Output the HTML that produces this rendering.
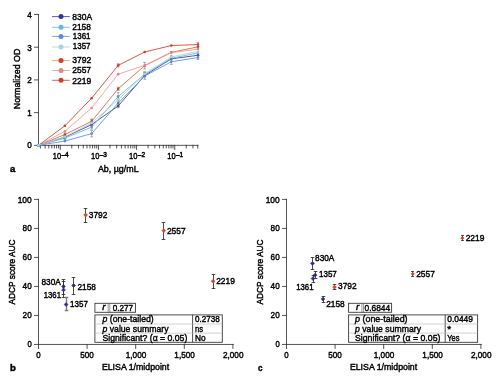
<!DOCTYPE html>
<html><head><meta charset="utf-8"><title>Figure</title>
<style>
html,body{margin:0;padding:0;background:#fff;}
body{width:499px;height:385px;overflow:hidden;}
svg{display:block;font-family:"Liberation Sans",sans-serif;fill:#000;}
text{stroke:#000;stroke-width:0.45px;}
</style></head><body>
<svg width="499" height="385" viewBox="0 0 499 385">
<rect width="499" height="385" fill="#fff"/>
<g stroke="#2a2a2a" stroke-width="0.8" fill="none" stroke-linecap="square">
<path d="M38.5 14.47V145.35H198.0"/>
<path d="M34.5 145.35H38.5"/>
<path d="M34.5 112.63H38.5"/>
<path d="M34.5 79.91H38.5"/>
<path d="M34.5 47.19H38.5"/>
<path d="M34.5 14.47H38.5"/>
<path d="M40.35 145.35v2.6"/>
<path d="M45.12 145.35v2.6"/>
<path d="M48.82 145.35v2.6"/>
<path d="M51.84 145.35v2.6"/>
<path d="M54.39 145.35v2.6"/>
<path d="M56.60 145.35v2.6"/>
<path d="M58.55 145.35v2.6"/>
<path d="M60.30 145.35v4"/>
<path d="M71.78 145.35v2.6"/>
<path d="M78.50 145.35v2.6"/>
<path d="M83.27 145.35v2.6"/>
<path d="M86.97 145.35v2.6"/>
<path d="M89.99 145.35v2.6"/>
<path d="M92.54 145.35v2.6"/>
<path d="M94.75 145.35v2.6"/>
<path d="M96.70 145.35v2.6"/>
<path d="M98.45 145.35v4"/>
<path d="M109.93 145.35v2.6"/>
<path d="M116.65 145.35v2.6"/>
<path d="M121.42 145.35v2.6"/>
<path d="M125.12 145.35v2.6"/>
<path d="M128.14 145.35v2.6"/>
<path d="M130.69 145.35v2.6"/>
<path d="M132.90 145.35v2.6"/>
<path d="M134.85 145.35v2.6"/>
<path d="M136.60 145.35v4"/>
<path d="M148.08 145.35v2.6"/>
<path d="M154.80 145.35v2.6"/>
<path d="M159.57 145.35v2.6"/>
<path d="M163.27 145.35v2.6"/>
<path d="M166.29 145.35v2.6"/>
<path d="M168.84 145.35v2.6"/>
<path d="M171.05 145.35v2.6"/>
<path d="M173.00 145.35v2.6"/>
<path d="M174.75 145.35v4"/>
<path d="M186.23 145.35v2.6"/>
<path d="M192.95 145.35v2.6"/>
<path d="M197.72 145.35v2.6"/>
</g>
<text x="27.30" y="148.35" font-size="9.9" textLength="4.50" lengthAdjust="spacingAndGlyphs">0</text>
<text x="27.30" y="115.78" font-size="9.9" textLength="4.50" lengthAdjust="spacingAndGlyphs">1</text>
<text x="27.30" y="83.21" font-size="9.9" textLength="4.50" lengthAdjust="spacingAndGlyphs">2</text>
<text x="27.30" y="50.64" font-size="9.9" textLength="4.50" lengthAdjust="spacingAndGlyphs">3</text>
<text x="27.30" y="18.07" font-size="9.9" textLength="4.50" lengthAdjust="spacingAndGlyphs">4</text>
<text x="52.80" y="158.80" font-size="9.9" textLength="8.40" lengthAdjust="spacingAndGlyphs">10</text>
<text x="61.50" y="157.00" font-size="6.4" textLength="7.20" lengthAdjust="spacingAndGlyphs">–4</text>
<text x="90.95" y="158.80" font-size="9.9" textLength="8.40" lengthAdjust="spacingAndGlyphs">10</text>
<text x="99.65" y="157.00" font-size="6.4" textLength="7.20" lengthAdjust="spacingAndGlyphs">–3</text>
<text x="129.10" y="158.80" font-size="9.9" textLength="8.40" lengthAdjust="spacingAndGlyphs">10</text>
<text x="137.80" y="157.00" font-size="6.4" textLength="7.20" lengthAdjust="spacingAndGlyphs">–2</text>
<text x="167.25" y="158.80" font-size="9.9" textLength="8.40" lengthAdjust="spacingAndGlyphs">10</text>
<text x="175.95" y="157.00" font-size="6.4" textLength="7.20" lengthAdjust="spacingAndGlyphs">–1</text>
<text x="97.90" y="171.60" font-size="9.9" textLength="40.80" lengthAdjust="spacingAndGlyphs">Ab, µg/mL</text>
<text x="9.90" y="171.90" font-size="9.5" font-weight="bold" stroke="none">a</text>
<text transform="translate(20.1,109.2) rotate(-90)" font-size="9.9" textLength="60.5" lengthAdjust="spacingAndGlyphs">Normalized OD</text>
<polyline points="38.50,145.30 64.90,134.58 91.70,121.25 118.20,88.75 144.70,65.68 171.30,52.35 198.00,46.83" fill="none" stroke="#e0603a" stroke-width="0.85"/>
<path d="M64.90 132.95V136.20M63.50 132.95h2.8M63.50 136.20h2.8" stroke="#6c6c78" stroke-width="0.55" fill="none"/>
<path d="M91.70 119.63V122.88M90.30 119.63h2.8M90.30 122.88h2.8" stroke="#6c6c78" stroke-width="0.55" fill="none"/>
<path d="M118.20 87.12V90.38M116.80 87.12h2.8M116.80 90.38h2.8" stroke="#6c6c78" stroke-width="0.55" fill="none"/>
<path d="M144.70 62.42V68.93M143.30 62.42h2.8M143.30 68.93h2.8" stroke="#6c6c78" stroke-width="0.55" fill="none"/>
<circle cx="38.50" cy="145.30" r="1.3" fill="#d4401f"/>
<circle cx="64.90" cy="134.58" r="1.3" fill="#d4401f"/>
<circle cx="91.70" cy="121.25" r="1.3" fill="#d4401f"/>
<circle cx="118.20" cy="88.75" r="1.3" fill="#d4401f"/>
<circle cx="144.70" cy="65.68" r="1.3" fill="#d4401f"/>
<circle cx="171.30" cy="52.35" r="1.3" fill="#d4401f"/>
<circle cx="198.00" cy="46.83" r="1.3" fill="#d4401f"/>
<polyline points="38.50,145.30 64.90,131.33 91.70,107.93 118.20,74.13 144.70,65.35 171.30,52.68 198.00,49.10" fill="none" stroke="#ec9c8e" stroke-width="0.85"/>
<circle cx="38.50" cy="145.30" r="1.3" fill="#e38a80"/>
<circle cx="64.90" cy="131.33" r="1.3" fill="#e38a80"/>
<circle cx="91.70" cy="107.93" r="1.3" fill="#e38a80"/>
<circle cx="118.20" cy="74.13" r="1.3" fill="#e38a80"/>
<circle cx="144.70" cy="65.35" r="1.3" fill="#e38a80"/>
<circle cx="171.30" cy="52.68" r="1.3" fill="#e38a80"/>
<circle cx="198.00" cy="49.10" r="1.3" fill="#e38a80"/>
<polyline points="38.50,145.30 64.90,125.80 91.70,98.18 118.20,65.35 144.70,52.03 171.30,45.53 198.00,44.55" fill="none" stroke="#d23c20" stroke-width="0.85"/>
<path d="M118.20 63.73V66.98M116.80 63.73h2.8M116.80 66.98h2.8" stroke="#6c6c78" stroke-width="0.55" fill="none"/>
<path d="M198.00 42.60V46.50M196.60 42.60h2.8M196.60 46.50h2.8" stroke="#6c6c78" stroke-width="0.55" fill="none"/>
<circle cx="38.50" cy="145.30" r="1.3" fill="#d23c20"/>
<circle cx="64.90" cy="125.80" r="1.3" fill="#d23c20"/>
<circle cx="91.70" cy="98.18" r="1.3" fill="#d23c20"/>
<circle cx="118.20" cy="65.35" r="1.3" fill="#d23c20"/>
<circle cx="144.70" cy="52.03" r="1.3" fill="#d23c20"/>
<circle cx="171.30" cy="45.53" r="1.3" fill="#d23c20"/>
<circle cx="198.00" cy="44.55" r="1.3" fill="#d23c20"/>
<polyline points="38.50,145.30 64.90,137.18 91.70,124.50 118.20,105.98 144.70,75.43 171.30,58.85 198.00,55.28" fill="none" stroke="#34359a" stroke-width="0.85"/>
<path d="M118.20 104.35V107.60M116.80 104.35h2.8M116.80 107.60h2.8" stroke="#6c6c78" stroke-width="0.55" fill="none"/>
<path d="M144.70 73.80V77.05M143.30 73.80h2.8M143.30 77.05h2.8" stroke="#6c6c78" stroke-width="0.55" fill="none"/>
<circle cx="38.50" cy="145.30" r="1.3" fill="#34359a"/>
<circle cx="64.90" cy="137.18" r="1.3" fill="#34359a"/>
<circle cx="91.70" cy="124.50" r="1.3" fill="#34359a"/>
<circle cx="118.20" cy="105.98" r="1.3" fill="#34359a"/>
<circle cx="144.70" cy="75.43" r="1.3" fill="#34359a"/>
<circle cx="171.30" cy="58.85" r="1.3" fill="#34359a"/>
<circle cx="198.00" cy="55.28" r="1.3" fill="#34359a"/>
<polyline points="38.50,145.30 64.90,138.15 91.70,127.10 118.20,96.55 144.70,74.13 171.30,58.20 198.00,53.00" fill="none" stroke="#62b8dc" stroke-width="0.85"/>
<path d="M64.90 136.53V139.78M63.50 136.53h2.8M63.50 139.78h2.8" stroke="#6c6c78" stroke-width="0.55" fill="none"/>
<path d="M91.70 125.15V129.05M90.30 125.15h2.8M90.30 129.05h2.8" stroke="#6c6c78" stroke-width="0.55" fill="none"/>
<path d="M118.20 92.65V100.45M116.80 92.65h2.8M116.80 100.45h2.8" stroke="#6c6c78" stroke-width="0.55" fill="none"/>
<path d="M144.70 72.18V76.08M143.30 72.18h2.8M143.30 76.08h2.8" stroke="#6c6c78" stroke-width="0.55" fill="none"/>
<path d="M171.30 56.58V59.83M169.90 56.58h2.8M169.90 59.83h2.8" stroke="#6c6c78" stroke-width="0.55" fill="none"/>
<circle cx="38.50" cy="145.30" r="1.3" fill="#62b8dc"/>
<circle cx="64.90" cy="138.15" r="1.3" fill="#62b8dc"/>
<circle cx="91.70" cy="127.10" r="1.3" fill="#62b8dc"/>
<circle cx="118.20" cy="96.55" r="1.3" fill="#62b8dc"/>
<circle cx="144.70" cy="74.13" r="1.3" fill="#62b8dc"/>
<circle cx="171.30" cy="58.20" r="1.3" fill="#62b8dc"/>
<circle cx="198.00" cy="53.00" r="1.3" fill="#62b8dc"/>
<polyline points="38.50,145.30 64.90,141.08 91.70,133.60 118.20,103.05 144.70,76.08 171.30,61.78 198.00,57.55" fill="none" stroke="#5a8dd8" stroke-width="0.85"/>
<path d="M91.70 130.35V136.85M90.30 130.35h2.8M90.30 136.85h2.8" stroke="#6c6c78" stroke-width="0.55" fill="none"/>
<path d="M118.20 99.80V106.30M116.80 99.80h2.8M116.80 106.30h2.8" stroke="#6c6c78" stroke-width="0.55" fill="none"/>
<path d="M144.70 72.83V79.33M143.30 72.83h2.8M143.30 79.33h2.8" stroke="#6c6c78" stroke-width="0.55" fill="none"/>
<path d="M171.30 59.18V64.38M169.90 59.18h2.8M169.90 64.38h2.8" stroke="#6c6c78" stroke-width="0.55" fill="none"/>
<path d="M198.00 55.60V59.50M196.60 55.60h2.8M196.60 59.50h2.8" stroke="#6c6c78" stroke-width="0.55" fill="none"/>
<circle cx="38.50" cy="145.30" r="1.3" fill="#5a8dd8"/>
<circle cx="64.90" cy="141.08" r="1.3" fill="#5a8dd8"/>
<circle cx="91.70" cy="133.60" r="1.3" fill="#5a8dd8"/>
<circle cx="118.20" cy="103.05" r="1.3" fill="#5a8dd8"/>
<circle cx="144.70" cy="76.08" r="1.3" fill="#5a8dd8"/>
<circle cx="171.30" cy="61.78" r="1.3" fill="#5a8dd8"/>
<circle cx="198.00" cy="57.55" r="1.3" fill="#5a8dd8"/>
<polyline points="38.50,145.30 64.90,136.85 91.70,122.88 118.20,99.80 144.70,73.80 171.30,56.90 198.00,51.38" fill="none" stroke="#a6d6d8" stroke-width="0.85"/>
<path d="M64.90 135.23V138.48M63.50 135.23h2.8M63.50 138.48h2.8" stroke="#6c6c78" stroke-width="0.55" fill="none"/>
<path d="M91.70 118.98V126.78M90.30 118.98h2.8M90.30 126.78h2.8" stroke="#6c6c78" stroke-width="0.55" fill="none"/>
<path d="M118.20 95.90V103.70M116.80 95.90h2.8M116.80 103.70h2.8" stroke="#6c6c78" stroke-width="0.55" fill="none"/>
<path d="M144.70 71.85V75.75M143.30 71.85h2.8M143.30 75.75h2.8" stroke="#6c6c78" stroke-width="0.55" fill="none"/>
<path d="M171.30 55.28V58.53M169.90 55.28h2.8M169.90 58.53h2.8" stroke="#6c6c78" stroke-width="0.55" fill="none"/>
<circle cx="38.50" cy="145.30" r="1.3" fill="#a6d6d8"/>
<circle cx="64.90" cy="136.85" r="1.3" fill="#a6d6d8"/>
<circle cx="91.70" cy="122.88" r="1.3" fill="#a6d6d8"/>
<circle cx="118.20" cy="99.80" r="1.3" fill="#a6d6d8"/>
<circle cx="144.70" cy="73.80" r="1.3" fill="#a6d6d8"/>
<circle cx="171.30" cy="56.90" r="1.3" fill="#a6d6d8"/>
<circle cx="198.00" cy="51.38" r="1.3" fill="#a6d6d8"/>
<path d="M52.1 16.6H69.8" stroke="#34359a" stroke-width="0.8"/>
<circle cx="61" cy="16.6" r="2.5" fill="#34359a"/>
<text x="72.30" y="19.80" font-size="9.9" textLength="19.80" lengthAdjust="spacingAndGlyphs">830A</text>
<path d="M52.1 27.3H69.8" stroke="#62b8dc" stroke-width="0.8"/>
<circle cx="61" cy="27.3" r="2.5" fill="#62b8dc"/>
<text x="72.30" y="29.70" font-size="9.9" textLength="18.60" lengthAdjust="spacingAndGlyphs">2158</text>
<path d="M52.1 36.4H69.8" stroke="#5a8dd8" stroke-width="0.8"/>
<circle cx="61" cy="36.4" r="2.5" fill="#5a8dd8"/>
<text x="72.80" y="39.40" font-size="9.9" textLength="17.70" lengthAdjust="spacingAndGlyphs">1361</text>
<path d="M52.1 47.0H69.8" stroke="#a6d6d8" stroke-width="0.8"/>
<circle cx="61" cy="47.0" r="2.5" fill="#a6d6d8"/>
<text x="72.80" y="49.40" font-size="9.9" textLength="17.70" lengthAdjust="spacingAndGlyphs">1357</text>
<path d="M52.1 60.6H69.8" stroke="#ee8e5e" stroke-width="0.8"/>
<circle cx="61" cy="60.6" r="2.5" fill="#d4401f"/>
<text x="72.30" y="63.00" font-size="9.9" textLength="19.00" lengthAdjust="spacingAndGlyphs">3792</text>
<path d="M52.1 70.5H69.8" stroke="#ec9c8e" stroke-width="0.8"/>
<circle cx="61" cy="70.5" r="2.5" fill="#e38a80"/>
<text x="72.30" y="73.40" font-size="9.9" textLength="18.70" lengthAdjust="spacingAndGlyphs">2557</text>
<path d="M52.1 80.3H69.8" stroke="#d23c20" stroke-width="0.8"/>
<circle cx="61" cy="80.3" r="2.5" fill="#d23c20"/>
<text x="72.30" y="83.80" font-size="9.9" textLength="18.90" lengthAdjust="spacingAndGlyphs">2219</text>
<g stroke="#2a2a2a" stroke-width="0.8" fill="none" stroke-linecap="square">
<path d="M38.5 199.40V344.45H233.20"/>
<path d="M34.5 344.45H38.5"/>
<path d="M34.5 315.44H38.5"/>
<path d="M34.5 286.43H38.5"/>
<path d="M34.5 257.42H38.5"/>
<path d="M34.5 228.41H38.5"/>
<path d="M34.5 199.40H38.5"/>
<path d="M38.50 344.45v4"/>
<path d="M87.10 344.45v4"/>
<path d="M135.70 344.45v4"/>
<path d="M184.30 344.45v4"/>
<path d="M232.90 344.45v4"/>
</g>
<text x="31.70" y="346.60" font-size="9.9" text-anchor="end" textLength="4.30" lengthAdjust="spacingAndGlyphs">0</text>
<text x="31.70" y="317.82" font-size="9.9" text-anchor="end" textLength="9.10" lengthAdjust="spacingAndGlyphs">20</text>
<text x="31.70" y="289.04" font-size="9.9" text-anchor="end" textLength="9.10" lengthAdjust="spacingAndGlyphs">40</text>
<text x="31.70" y="260.26" font-size="9.9" text-anchor="end" textLength="9.10" lengthAdjust="spacingAndGlyphs">60</text>
<text x="31.70" y="231.48" font-size="9.9" text-anchor="end" textLength="9.10" lengthAdjust="spacingAndGlyphs">80</text>
<text x="31.70" y="202.70" font-size="9.9" text-anchor="end" textLength="14.00" lengthAdjust="spacingAndGlyphs">100</text>
<text x="36.30" y="357.80" font-size="9.9" textLength="4.40" lengthAdjust="spacingAndGlyphs">0</text>
<text x="80.30" y="357.80" font-size="9.9" textLength="13.60" lengthAdjust="spacingAndGlyphs">500</text>
<text x="125.75" y="357.80" font-size="9.9" textLength="20.50" lengthAdjust="spacingAndGlyphs">1,000</text>
<text x="174.35" y="357.80" font-size="9.9" textLength="20.50" lengthAdjust="spacingAndGlyphs">1,500</text>
<text x="222.95" y="357.80" font-size="9.9" textLength="20.50" lengthAdjust="spacingAndGlyphs">2,000</text>
<text x="101.90" y="370.00" font-size="9.9" textLength="67.30" lengthAdjust="spacingAndGlyphs">ELISA 1/midpoint</text>
<text x="10.00" y="370.60" font-size="9.5" font-weight="bold" stroke="none">b</text>
<text transform="translate(15.20,304.5) rotate(-90)" font-size="9.9" textLength="65" lengthAdjust="spacingAndGlyphs">ADCP score AUC</text>
<path d="M85.50 208.50V222.50M83.70 208.50h3.6M83.70 222.50h3.6" stroke="#2a2a2a" stroke-width="0.85" fill="none"/>
<path d="M83.70 215.00L85.60 213.10L87.50 215.00L85.60 216.90Z" fill="#dc4320" stroke="#dc4320" stroke-width="0.7" stroke-linejoin="round"/>
<text x="88.80" y="217.90" font-size="9.9" textLength="18.50" lengthAdjust="spacingAndGlyphs">3792</text>
<path d="M163.50 222.50V239.50M161.70 222.50h3.6M161.70 239.50h3.6" stroke="#2a2a2a" stroke-width="0.85" fill="none"/>
<path d="M161.90 230.60L163.80 228.70L165.70 230.60L163.80 232.50Z" fill="#dc4320" stroke="#dc4320" stroke-width="0.7" stroke-linejoin="round"/>
<text x="166.90" y="233.80" font-size="9.9" textLength="18.70" lengthAdjust="spacingAndGlyphs">2557</text>
<path d="M213.50 274.50V288.50M211.70 274.50h3.6M211.70 288.50h3.6" stroke="#2a2a2a" stroke-width="0.85" fill="none"/>
<path d="M211.20 281.30L213.10 279.40L215.00 281.30L213.10 283.20Z" fill="#dc4320" stroke="#dc4320" stroke-width="0.7" stroke-linejoin="round"/>
<text x="216.20" y="283.90" font-size="9.9" textLength="18.70" lengthAdjust="spacingAndGlyphs">2219</text>
<path d="M63.50 279.50V294.50M61.70 279.50h3.6M61.70 294.50h3.6" stroke="#2a2a2a" stroke-width="0.85" fill="none"/>
<path d="M61.60 286.40L63.50 284.50L65.40 286.40L63.50 288.30Z" fill="#2e2ea2" stroke="#2e2ea2" stroke-width="0.7" stroke-linejoin="round"/>
<text x="41.50" y="284.90" font-size="9.9" textLength="19.30" lengthAdjust="spacingAndGlyphs">830A</text>
<path d="M63.50 281.50V297.50M61.70 281.50h3.6M61.70 297.50h3.6" stroke="#2a2a2a" stroke-width="0.85" fill="none"/>
<path d="M61.60 289.90L63.50 288.00L65.40 289.90L63.50 291.80Z" fill="#2e2ea2" stroke="#2e2ea2" stroke-width="0.7" stroke-linejoin="round"/>
<text x="43.70" y="297.70" font-size="9.9" textLength="17.30" lengthAdjust="spacingAndGlyphs">1361</text>
<path d="M73.50 277.50V294.50M71.70 277.50h3.6M71.70 294.50h3.6" stroke="#2a2a2a" stroke-width="0.85" fill="none"/>
<path d="M71.70 285.50L73.60 283.60L75.50 285.50L73.60 287.40Z" fill="#2e2ea2" stroke="#2e2ea2" stroke-width="0.7" stroke-linejoin="round"/>
<text x="77.50" y="289.70" font-size="9.9" textLength="18.50" lengthAdjust="spacingAndGlyphs">2158</text>
<path d="M66.50 297.50V310.50M64.70 297.50h3.6M64.70 310.50h3.6" stroke="#7c7c7c" stroke-width="1.3" fill="none"/>
<path d="M64.20 304.50L66.10 302.60L68.00 304.50L66.10 306.40Z" fill="#2e2ea2" stroke="#2e2ea2" stroke-width="0.7" stroke-linejoin="round"/>
<text x="70.10" y="306.70" font-size="9.9" textLength="17.80" lengthAdjust="spacingAndGlyphs">1357</text>
<g fill="#fff" stroke="#3a3a3a" stroke-width="0.9">
<rect x="94.9" y="303.3" width="40.6" height="9.0"/>
<rect x="94.9" y="314.9" width="127.4" height="27.4"/>
</g>
<g stroke="#555" stroke-width="0.6" fill="none">
<path d="M108.2 303.3v9M109.80000000000001 303.3v9"/>
<path d="M192.6 314.9v27.4" stroke="#3a3a3a" stroke-width="0.9"/>
</g>
<g stroke="#b4b4b4" stroke-width="0.6" fill="none">
<path d="M94.9 324H222.3M94.9 333.1H222.3"/>
</g>
<text x="102.2" y="310.4" font-size="9.9" font-style="italic">r</text>
<text x="112.70" y="310.50" font-size="9.9" textLength="20.40" lengthAdjust="spacingAndGlyphs">0.277</text>
<text x="102.5" y="321.8" font-size="9.9" textLength="51.2" lengthAdjust="spacingAndGlyphs"><tspan font-style="italic">p</tspan> (one-tailed)</text>
<text x="102.5" y="331.6" font-size="9.9" textLength="66" lengthAdjust="spacingAndGlyphs"><tspan font-style="italic">p</tspan> value summary</text>
<text x="102.50" y="340.60" font-size="9.9" textLength="84.80" lengthAdjust="spacingAndGlyphs">Significant? (α = 0.05)</text>
<text x="195.00" y="321.80" font-size="9.9" textLength="24.80" lengthAdjust="spacingAndGlyphs">0.2738</text>
<text x="195.00" y="331.90" font-size="9.9" textLength="8.00" lengthAdjust="spacingAndGlyphs">ns</text>
<text x="195.00" y="340.60" font-size="9.9" textLength="10.60" lengthAdjust="spacingAndGlyphs">No</text>
<g stroke="#2a2a2a" stroke-width="0.8" fill="none" stroke-linecap="square">
<path d="M286.5 199.40V344.45H481.20"/>
<path d="M282.5 344.45H286.5"/>
<path d="M282.5 315.44H286.5"/>
<path d="M282.5 286.43H286.5"/>
<path d="M282.5 257.42H286.5"/>
<path d="M282.5 228.41H286.5"/>
<path d="M282.5 199.40H286.5"/>
<path d="M286.50 344.45v4"/>
<path d="M335.10 344.45v4"/>
<path d="M383.70 344.45v4"/>
<path d="M432.30 344.45v4"/>
<path d="M480.90 344.45v4"/>
</g>
<text x="279.70" y="346.60" font-size="9.9" text-anchor="end" textLength="4.30" lengthAdjust="spacingAndGlyphs">0</text>
<text x="279.70" y="317.82" font-size="9.9" text-anchor="end" textLength="9.10" lengthAdjust="spacingAndGlyphs">20</text>
<text x="279.70" y="289.04" font-size="9.9" text-anchor="end" textLength="9.10" lengthAdjust="spacingAndGlyphs">40</text>
<text x="279.70" y="260.26" font-size="9.9" text-anchor="end" textLength="9.10" lengthAdjust="spacingAndGlyphs">60</text>
<text x="279.70" y="231.48" font-size="9.9" text-anchor="end" textLength="9.10" lengthAdjust="spacingAndGlyphs">80</text>
<text x="279.70" y="202.70" font-size="9.9" text-anchor="end" textLength="14.00" lengthAdjust="spacingAndGlyphs">100</text>
<text x="284.30" y="357.80" font-size="9.9" textLength="4.40" lengthAdjust="spacingAndGlyphs">0</text>
<text x="328.30" y="357.80" font-size="9.9" textLength="13.60" lengthAdjust="spacingAndGlyphs">500</text>
<text x="373.75" y="357.80" font-size="9.9" textLength="20.50" lengthAdjust="spacingAndGlyphs">1,000</text>
<text x="422.35" y="357.80" font-size="9.9" textLength="20.50" lengthAdjust="spacingAndGlyphs">1,500</text>
<text x="470.95" y="357.80" font-size="9.9" textLength="20.50" lengthAdjust="spacingAndGlyphs">2,000</text>
<text x="349.90" y="370.00" font-size="9.9" textLength="67.30" lengthAdjust="spacingAndGlyphs">ELISA 1/midpoint</text>
<text x="258.00" y="370.60" font-size="9.5" textLength="4.50" lengthAdjust="spacingAndGlyphs" font-weight="bold" stroke="none">c</text>
<text transform="translate(263.20,304.5) rotate(-90)" font-size="9.9" textLength="65" lengthAdjust="spacingAndGlyphs">ADCP score AUC</text>
<path d="M312.50 257.50V269.50M310.70 257.50h3.6M310.70 269.50h3.6" stroke="#2a2a2a" stroke-width="0.85" fill="none"/>
<path d="M310.60 263.40L312.50 261.50L314.40 263.40L312.50 265.30Z" fill="#2e2ea2" stroke="#2e2ea2" stroke-width="0.7" stroke-linejoin="round"/>
<text x="315.10" y="260.60" font-size="9.9" textLength="19.30" lengthAdjust="spacingAndGlyphs">830A</text>
<path d="M315.50 271.50V278.50M313.70 271.50h3.6M313.70 278.50h3.6" stroke="#2a2a2a" stroke-width="0.85" fill="none"/>
<path d="M313.20 275.10L315.10 273.20L317.00 275.10L315.10 277.00Z" fill="#2e2ea2" stroke="#2e2ea2" stroke-width="0.7" stroke-linejoin="round"/>
<text x="319.00" y="276.70" font-size="9.9" textLength="17.80" lengthAdjust="spacingAndGlyphs">1357</text>
<path d="M313.50 275.50V282.50M311.70 275.50h3.6M311.70 282.50h3.6" stroke="#2a2a2a" stroke-width="0.85" fill="none"/>
<path d="M311.10 278.60L313.00 276.70L314.90 278.60L313.00 280.50Z" fill="#2e2ea2" stroke="#2e2ea2" stroke-width="0.7" stroke-linejoin="round"/>
<text x="296.20" y="290.40" font-size="9.9" textLength="17.30" lengthAdjust="spacingAndGlyphs">1361</text>
<path d="M334.50 284.50V289.50M332.70 284.50h3.6M332.70 289.50h3.6" stroke="#2a2a2a" stroke-width="0.85" fill="none"/>
<path d="M332.60 287.10L334.50 285.20L336.40 287.10L334.50 289.00Z" fill="#dc4320" stroke="#dc4320" stroke-width="0.7" stroke-linejoin="round"/>
<text x="338.10" y="288.50" font-size="9.9" textLength="18.50" lengthAdjust="spacingAndGlyphs">3792</text>
<path d="M323.50 296.50V302.50M321.70 296.50h3.6M321.70 302.50h3.6" stroke="#2a2a2a" stroke-width="0.85" fill="none"/>
<path d="M321.10 299.10L323.00 297.20L324.90 299.10L323.00 301.00Z" fill="#2e2ea2" stroke="#2e2ea2" stroke-width="0.7" stroke-linejoin="round"/>
<text x="326.20" y="306.60" font-size="9.9" textLength="18.50" lengthAdjust="spacingAndGlyphs">2158</text>
<path d="M412.50 271.50V276.50M411.10 271.50h2.8M411.10 276.50h2.8" stroke="#2a2a2a" stroke-width="0.85" fill="none"/>
<path d="M411.30 273.90L412.80 272.40L414.30 273.90L412.80 275.40Z" fill="#dc4320" stroke="#dc4320" stroke-width="1.0" stroke-linejoin="round"/>
<text x="416.20" y="277.00" font-size="9.9" textLength="18.70" lengthAdjust="spacingAndGlyphs">2557</text>
<path d="M462.50 235.50V240.50M461.10 235.50h2.8M461.10 240.50h2.8" stroke="#2a2a2a" stroke-width="0.85" fill="none"/>
<path d="M460.80 238.10L462.30 236.60L463.80 238.10L462.30 239.60Z" fill="#dc4320" stroke="#dc4320" stroke-width="1.0" stroke-linejoin="round"/>
<text x="465.70" y="241.00" font-size="9.9" textLength="18.70" lengthAdjust="spacingAndGlyphs">2219</text>
<g fill="#fff" stroke="#3a3a3a" stroke-width="0.9">
<rect x="348.6" y="303.3" width="43.0" height="9.0"/>
<rect x="348.6" y="314.9" width="129" height="27.4"/>
</g>
<g stroke="#555" stroke-width="0.6" fill="none">
<path d="M361.90000000000003 303.3v9M363.5 303.3v9"/>
<path d="M445.2 314.9v27.4" stroke="#3a3a3a" stroke-width="0.9"/>
</g>
<g stroke="#b4b4b4" stroke-width="0.6" fill="none">
<path d="M348.6 324H477.6M348.6 333.1H477.6"/>
</g>
<text x="355.90000000000003" y="310.4" font-size="9.9" font-style="italic">r</text>
<text x="364.50" y="310.50" font-size="9.9" textLength="25.70" lengthAdjust="spacingAndGlyphs">0.6844</text>
<text x="355.0" y="321.8" font-size="9.9" textLength="52.6" lengthAdjust="spacingAndGlyphs"><tspan font-style="italic">p</tspan> (one-tailed)</text>
<text x="355.0" y="331.6" font-size="9.9" textLength="66" lengthAdjust="spacingAndGlyphs"><tspan font-style="italic">p</tspan> value summary</text>
<text x="355.00" y="340.60" font-size="9.9" textLength="85.40" lengthAdjust="spacingAndGlyphs">Significant? (α = 0.05)</text>
<text x="447.20" y="321.80" font-size="9.9" textLength="25.80" lengthAdjust="spacingAndGlyphs">0.0449</text>
<text x="447.20" y="332.10" font-size="9.9">*</text>
<text x="447.20" y="340.60" font-size="9.9" textLength="12.20" lengthAdjust="spacingAndGlyphs">Yes</text>
</svg>
</body></html>
